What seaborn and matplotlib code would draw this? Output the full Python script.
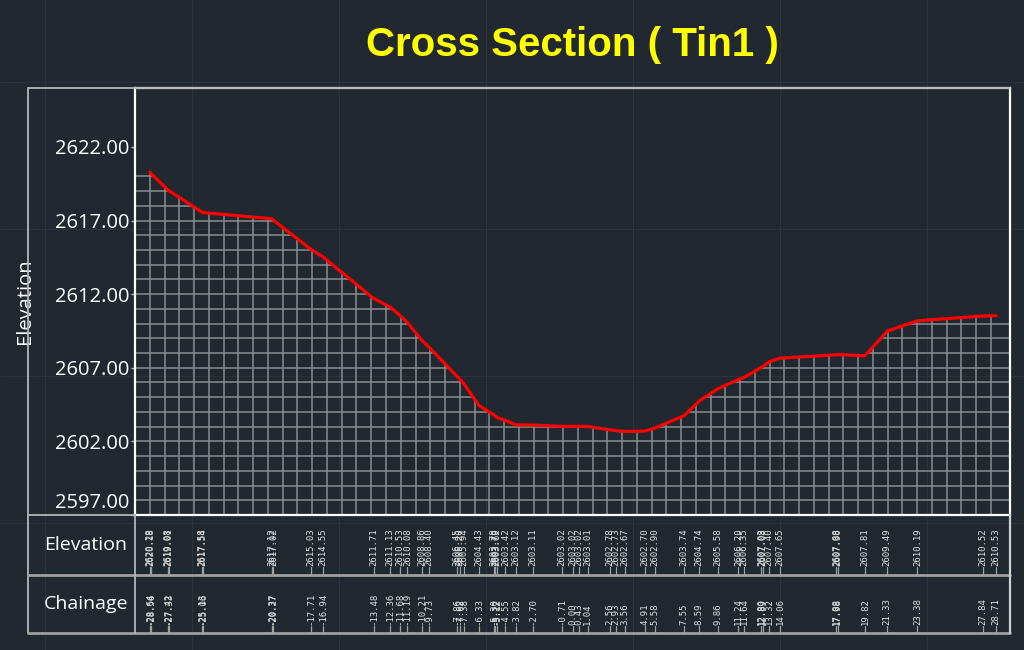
import numpy as np
import pandas as pd
import matplotlib
matplotlib.use("Agg")
import matplotlib.pyplot as plt
import seaborn as sns
from matplotlib.patches import Polygon
from matplotlib.lines import Line2D
from matplotlib.transforms import ScaledTranslation

# Datos de la seccion transversal
chainage = [-28.64, -28.56, -27.42, -27.33, -25.13, -25.06, -20.37, -20.27, -17.71, -16.94,
            -13.48, -12.36, -11.68, -11.19, -10.21, -9.73, -7.86, -7.62, -7.38, -6.33,
            -5.30, -5.22, -5.12, -4.55, -3.82, -2.70, -0.71, 0.00, 0.43, 1.04,
            2.56, 2.93, 3.56, 4.91, 5.58, 7.55, 8.59, 9.86, 11.24, 11.64,
            12.80, 12.89, 13.32, 14.06, 17.88, 17.98, 19.82, 21.33, 23.38, 27.84, 28.71]
elevation = [2620.28, 2620.18, 2619.08, 2619.01, 2617.58, 2617.54, 2617.12, 2617.02, 2615.03, 2614.55,
             2611.71, 2611.13, 2610.53, 2610.08, 2608.86, 2608.40, 2606.45, 2606.20, 2605.94, 2604.43,
             2603.78, 2603.70, 2603.62, 2603.42, 2603.12, 2603.11, 2603.02, 2603.02, 2603.02, 2603.01,
             2602.78, 2602.73, 2602.67, 2602.70, 2602.90, 2603.74, 2604.74, 2605.58, 2606.20, 2606.35,
             2607.03, 2607.08, 2607.40, 2607.65, 2607.88, 2607.90, 2607.81, 2609.49, 2610.19, 2610.52, 2610.53]
ytick_vals = [2597, 2602, 2607, 2612, 2617, 2622]
row_names = ["Elevation", "Chainage"]
titulo = "Cross Section ( Tin1 )"

df = pd.DataFrame({"chainage": chainage, "elevation": elevation})

BG = "#212830"
W, H = 1024, 650
XL = (-29.65, 29.65)
YL = (2597.0, 2626.0)

sns.set_theme(style="dark", rc={"figure.facecolor": BG, "axes.facecolor": BG})
plt.rcParams["font.family"] = ["Open Sans", "DejaVu Sans"]

fig = plt.figure(figsize=(W / 100, H / 100), dpi=100)

def fx(px):
    return px / W

def fy(py):
    return 1 - py / H

# rejilla tenue de fondo (estilo CAD)
for gx in range(45, W, 147):
    fig.add_artist(Line2D([fx(gx), fx(gx)], [0, 1], color="#2b333d", lw=0.8, zorder=0))
for gy in range(82, H, 147):
    fig.add_artist(Line2D([0, 1], [fy(gy), fy(gy)], color="#2b333d", lw=0.8, zorder=0))

ax = fig.add_axes([fx(135), fy(515), fx(1010 - 135), (515 - 88) / H])
ax.set_facecolor("none")
ax.set_xlim(*XL)
ax.set_ylim(*YL)

# poligono bajo el perfil para recortar la cuadricula
verts = [(XL[0], elevation[0])] + list(zip(chainage, elevation)) + \
        [(XL[1], elevation[-1]), (XL[1], YL[0]), (XL[0], YL[0])]
poly = Polygon(verts, closed=True, facecolor="none", edgecolor="none")
ax.add_patch(poly)

for gy in np.arange(YL[0], YL[1], 1.0):
    ln = ax.axhline(gy, color="#8a8d91", lw=1.1, zorder=1)
    ln.set_clip_path(poly)
for gx in np.arange(chainage[0], chainage[-1] + 0.01, 1.0):
    ln = ax.axvline(gx, color="#8a8d91", lw=1.1, zorder=1)
    ln.set_clip_path(poly)

sns.lineplot(data=df, x="chainage", y="elevation", sort=False, estimator=None,
             color="#ff0000", lw=2.3, ax=ax, zorder=3)

ax.set_xticks([])
ax.set_xlabel("")
ax.set_yticks(ytick_vals)
ax.set_yticklabels([f"{v:.2f}" for v in ytick_vals], fontsize=14.5, color="white")
ax.tick_params(axis="y", direction="out", length=3, width=1, color="#bbbbbb", pad=1, left=True)
# la etiqueta inferior va un poco mas arriba, como en el original
lab0 = ax.get_yticklabels()[0]
lab0.set_transform(lab0.get_transform() + ScaledTranslation(0, 15 / 100, fig.dpi_scale_trans))
ax.set_ylabel("Elevation", fontsize=14.5, color="white")
ax.yaxis.set_label_coords((35 - 135) / 875, 0.5)
ax.grid(False)
for s in ax.spines.values():
    s.set_color("white")
    s.set_linewidth(1.6)

# tabla inferior
tax = fig.add_axes([fx(135), fy(633), fx(1010 - 135), (633 - 515) / H])
tax.set_facecolor("none")
tax.set_xlim(*XL)
tax.set_ylim(0, 1)
tax.set_xticks([])
tax.set_yticks([])
for s in tax.spines.values():
    s.set_visible(False)
tr = tax.get_xaxis_transform()
lbl = dict(rotation=90, ha="center", va="bottom", fontsize=6.5, color="#e0e0e0",
           family=["DejaVu Sans Mono"], transform=tr)
for c, e in zip(chainage, elevation):
    tax.text(c, 0.565, f"{e:.2f}", **lbl)
    tax.plot([c, c], [0.492, 0.56], color="#a0a0a0", lw=0.9, transform=tr)
    tax.text(c, 0.068, f"{c:.2f}", **lbl)
    tax.plot([c, c], [0.0, 0.062], color="#a0a0a0", lw=0.9, transform=tr)

# marco exterior y lineas de la tabla
frame = dict(color="#b5b5b5", lw=1.3)
fig.add_artist(Line2D([fx(28), fx(1010)], [fy(88), fy(88)], **frame))
fig.add_artist(Line2D([fx(28), fx(28)], [fy(88), fy(633)], **frame))
fig.add_artist(Line2D([fx(28), fx(135)], [fy(515), fy(515)], **frame))
fig.add_artist(Line2D([fx(28), fx(1010)], [fy(575), fy(575)], color="#a0a0a0", lw=2.0))
fig.add_artist(Line2D([fx(28), fx(1010)], [fy(633), fy(633)], color="#a0a0a0", lw=2.0))
fig.add_artist(Line2D([fx(135), fx(135)], [fy(515), fy(633)], **frame))
fig.add_artist(Line2D([fx(1010), fx(1010)], [fy(515), fy(633)], color="#d0d0d0", lw=1.6))

fig.text(fx(86), fy(545), row_names[0], ha="center", va="center", fontsize=14, color="white")
fig.text(fx(86), fy(604), row_names[1], ha="center", va="center", fontsize=14, color="white")

fig.text(fx(572), fy(45), titulo, ha="center", va="center", fontsize=29, fontweight="bold",
         color="#ffff00", family=["Liberation Sans", "DejaVu Sans"])

fig.savefig("out.png", dpi=100, facecolor=BG)
